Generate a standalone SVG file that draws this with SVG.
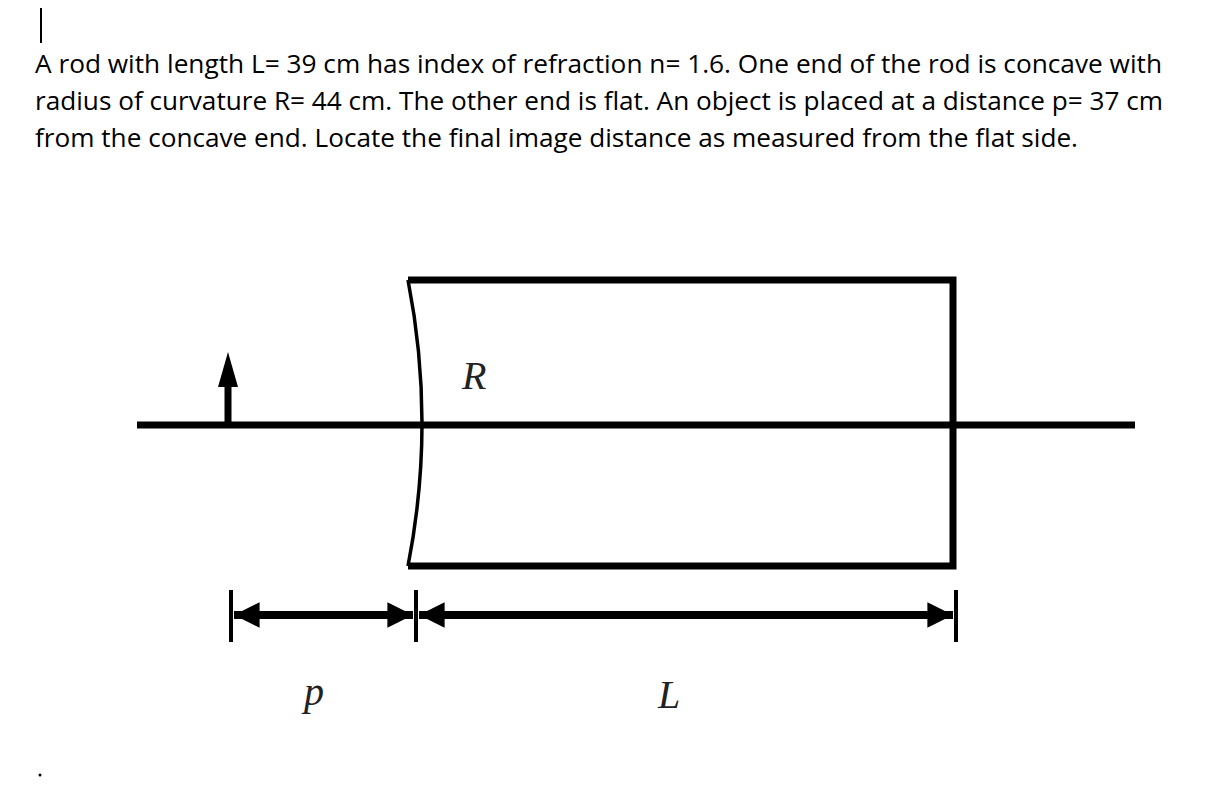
<svg xmlns="http://www.w3.org/2000/svg" width="1220" height="804" viewBox="0 0 1220 804">
<style>
.q{font-family:"Open Sans","Liberation Sans",sans-serif;font-size:25px;fill:#000;font-weight:500}
.m{font-family:"Liberation Serif",serif;font-style:italic;font-size:40px;fill:#222}
.k{stroke:#000;fill:none}
</style>
<defs>
<marker id="ah" viewBox="0 0 10 10" refX="10" refY="5" markerWidth="4" markerHeight="3.2" orient="auto-start-reverse" markerUnits="strokeWidth"><path d="M0,0 L10,5 L0,10 z" fill="#000"/></marker>
</defs>
<rect width="1220" height="804" fill="#fff"/>
<line x1="41" y1="8" x2="41" y2="43" stroke="#000" stroke-width="2"/>
<text class="q" x="35" y="73" textLength="1127" lengthAdjust="spacingAndGlyphs">A rod with length L= 39 cm has index of refraction n= 1.6. One end of the rod is concave with</text>
<text class="q" x="35" y="110" textLength="1128" lengthAdjust="spacingAndGlyphs">radius of curvature R= 44 cm. The other end is flat. An object is placed at a distance p= 37 cm</text>
<text class="q" x="35" y="147" textLength="1043" lengthAdjust="spacingAndGlyphs">from the concave end. Locate the final image distance as measured from the flat side.</text>
<g id="axis"><line class="k" x1="137" y1="425" x2="1135" y2="425" stroke-width="7"/></g>
<g id="object"><line class="k" x1="228" y1="425" x2="228" y2="385" stroke-width="7"/><path d="M228,352 L238,387 L218,387 z" fill="#000"/></g>
<g id="rod">
<path class="k" d="M408,280 L953,280 L953,566 L408,566" stroke-width="7"/>
<path class="k" d="M408,280 Q436,423 408,566" stroke-width="3.5"/>
<text class="m" x="462" y="389">R</text>
</g>
<g id="connectors">
<line class="k" x1="231" y1="590" x2="231" y2="642" stroke-width="4"/>
<line class="k" x1="416" y1="590" x2="416" y2="642" stroke-width="4"/>
<line class="k" x1="956" y1="590" x2="956" y2="642" stroke-width="4"/>
<line class="k" x1="234" y1="615" x2="413" y2="615" stroke-width="8" marker-start="url(#ah)" marker-end="url(#ah)"/>
<line class="k" x1="419" y1="615" x2="953" y2="615" stroke-width="8" marker-start="url(#ah)" marker-end="url(#ah)"/>
</g>
<text class="m" x="304" y="705">p</text>
<text class="m" x="658" y="708">L</text>
<circle cx="40" cy="775" r="1.5" fill="#000"/>
</svg>
